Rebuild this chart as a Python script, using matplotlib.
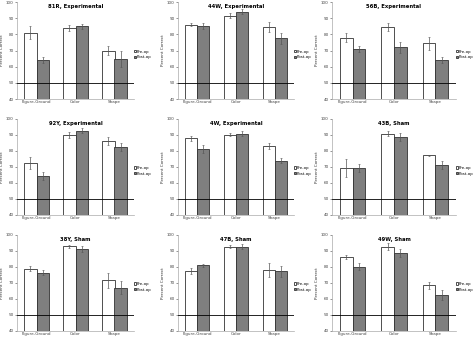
import numpy as np
import matplotlib
matplotlib.use("Agg")
import matplotlib.pyplot as plt

# ===============================
# DATA
# ===============================
categories = ["Figure-Ground", "Color", "Shape"]
titles = ["81R, Experimental", "44W, Experimental", "56B, Experimental",
          "92Y, Experimental", "4W, Experimental", "43B, Sham",
          "38Y, Sham", "47B, Sham", "49W, Sham"]

pre_op = [
    [81, 84, 70],
    [86, 91.5, 84.5],
    [78, 84.5, 74.5],
    [72.5, 90, 86],
    [88, 90.3, 83],
    [69.2, 90.7, 77.2],
    [79, 93, 71.6],
    [77.5, 92.8, 78.3],
    [86.3, 92.8, 68.5],
]
post_op = [
    [64, 85, 65],
    [85, 94, 77.5],
    [71, 72, 64],
    [64.5, 92.8, 82.5],
    [81, 90.7, 74],
    [69.4, 88.8, 71.2],
    [76.5, 91.3, 67],
    [81, 92.8, 77.4],
    [80.3, 88.8, 62.5],
]
pre_err = [
    [4, 2, 2.5],
    [1, 1.5, 3],
    [3, 2.5, 4],
    [3.5, 2, 2.5],
    [1.5, 1, 2],
    [5.5, 1.5, 0.5],
    [1.5, 1, 4.5],
    [2, 1, 4.5],
    [1.5, 2, 2],
]
post_err = [
    [2, 1.5, 5],
    [2, 1.5, 3.5],
    [2, 3.5, 2],
    [2.5, 1.5, 2.5],
    [2.5, 1.5, 1.5],
    [2.5, 2.5, 2.5],
    [1.5, 2, 4],
    [1, 1.5, 3.5],
    [2, 2.5, 3],
]

# ===============================
# LAYOUT (pixel positions -> figure fractions)
# ===============================
W, H = 474, 338
col_x = [(17, 134), (178, 294), (332, 456)]
row_y = [(2, 99), (119, 215), (235, 331)]

fig = plt.figure(figsize=(W / 100, H / 100), dpi=100)

x = np.arange(len(categories))
bw = 0.31

for i in range(9):
    r, c = divmod(i, 3)
    x0, x1 = col_x[c]
    y0, y1 = row_y[r]
    ax = fig.add_axes([x0 / W, 1 - y1 / H, (x1 - x0) / W, (y1 - y0) / H])

    ax.bar(x - bw / 2, pre_op[i], bw, color="white", edgecolor="#333333",
           linewidth=0.6, label="Pre-op", zorder=2)
    ax.bar(x + bw / 2, post_op[i], bw, color="#7f7f7f", edgecolor="#333333",
           linewidth=0.6, label="Post-op", zorder=2)
    ax.errorbar(x - bw / 2, pre_op[i], yerr=pre_err[i], fmt="none",
                ecolor="#555555", elinewidth=0.5, capsize=0.8,
                capthick=0.4, zorder=3)
    ax.errorbar(x + bw / 2, post_op[i], yerr=post_err[i], fmt="none",
                ecolor="#555555", elinewidth=0.5, capsize=0.8,
                capthick=0.4, zorder=3)

    # chance line drawn over the bars
    ax.axhline(50, color="black", linewidth=0.6, zorder=4)

    ax.set_ylim(40, 100)
    ax.set_xlim(-0.5, 2.5)
    ax.set_yticks(range(40, 101, 10))
    ax.set_xticks(x)
    ax.set_xticklabels(categories)
    ax.tick_params(axis="both", labelsize=3, length=1.5, width=0.4,
                   pad=1, colors="#444444")
    ax.tick_params(axis="x", length=0)
    for s in ["top", "right"]:
        ax.spines[s].set_visible(False)
    for s in ["left", "bottom"]:
        ax.spines[s].set_color("#aaaaaa")
        ax.spines[s].set_linewidth(0.5)

    ax.set_ylabel("Percent Correct", fontsize=3, labelpad=1, color="#333333")
    ax.set_title(titles[i], fontsize=3.8, fontweight="bold", y=0.94, pad=0)

    ax.legend(loc="center left", bbox_to_anchor=(1.0, 0.46), fontsize=2.8,
              frameon=False, handlelength=0.6, handleheight=0.6,
              handletextpad=0.15, labelspacing=0.4, borderaxespad=0,
              borderpad=0)

fig.savefig("out.png", dpi=100)
